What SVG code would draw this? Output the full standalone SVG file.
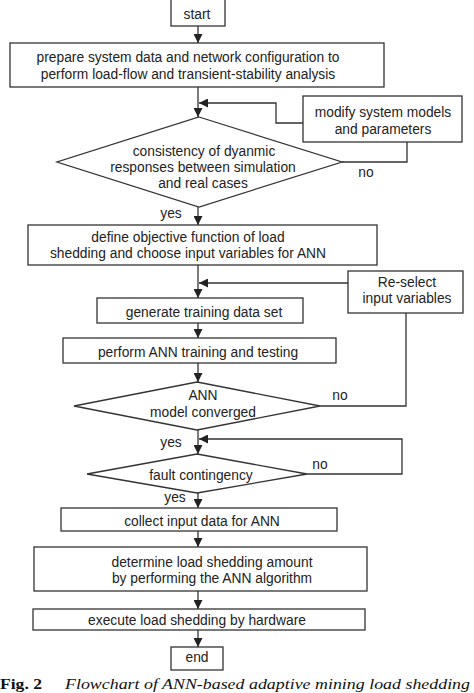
<svg xmlns="http://www.w3.org/2000/svg" width="474" height="693" viewBox="0 0 474 693">
<style>
.b{fill:#fff;stroke:#333;stroke-width:1.3}
.t{font-family:"Liberation Sans",Arial,sans-serif;font-size:13.8px;fill:#222;text-anchor:middle}
.l{font-family:"Liberation Sans",Arial,sans-serif;font-size:13.8px;fill:#222}
.c{fill:none;stroke:#333;stroke-width:1.3}
</style>
<defs>
<marker id="ah" markerWidth="9" markerHeight="9" refX="9" refY="4.5" orient="auto" markerUnits="userSpaceOnUse">
<path d="M0,0 L9,4.5 L0,9 Z" fill="#222"/>
</marker>
</defs>
<rect width="474" height="693" fill="#fff"/>
<g id="connectors">
<path class="c" d="M198 26 V43" marker-end="url(#ah)"/>
<path class="c" d="M198 87 V117" marker-end="url(#ah)"/>
<path class="c" d="M303 123 H276 V103 H199" marker-end="url(#ah)"/>
<path class="c" d="M342 162 H407 V142"/>
<path class="c" d="M198 207 V225" marker-end="url(#ah)"/>
<path class="c" d="M198 265 V298" marker-end="url(#ah)"/>
<path class="c" d="M348 283 H199" marker-end="url(#ah)"/>
<path class="c" d="M320 406 H406 V313"/>
<path class="c" d="M198 323 V338" marker-end="url(#ah)"/>
<path class="c" d="M198 363 V382" marker-end="url(#ah)"/>
<path class="c" d="M198 430 V454" marker-end="url(#ah)"/>
<path class="c" d="M307 474 H402 V439 H199" marker-end="url(#ah)"/>
<path class="c" d="M198 493 V508" marker-end="url(#ah)"/>
<path class="c" d="M198 531 V547" marker-end="url(#ah)"/>
<path class="c" d="M198 591 V609" marker-end="url(#ah)"/>
<path class="c" d="M198 630 V647" marker-end="url(#ah)"/>
<text class="l" x="366" y="177" text-anchor="middle">no</text>
<text class="l" x="171" y="218" text-anchor="middle">yes</text>
<text class="l" x="340" y="400" text-anchor="middle">no</text>
<text class="l" x="171" y="447" text-anchor="middle">yes</text>
<text class="l" x="320" y="469" text-anchor="middle">no</text>
<text class="l" x="175" y="502" text-anchor="middle">yes</text>
</g>
<g id="start"><rect class="b" x="171" y="-1" width="54" height="27"/><text class="t" x="197" y="19">start</text></g>
<g id="prepare"><rect class="b" x="10" y="43" width="374" height="44"/><text class="t" x="188" y="62">prepare system data and network configuration to</text><text class="t" x="188" y="79">perform load-flow and transient-stability analysis</text></g>
<g id="modify"><rect class="b" x="303" y="96" width="159" height="46"/><text class="t" x="383" y="117">modify system models</text><text class="t" x="383" y="134">and parameters</text></g>
<g id="consistency"><polygon class="b" points="199,117 342,162 199,207 57,162"/><text class="t" x="204" y="156">consistency of dyanmic</text><text class="t" x="203" y="172">responses between simulation</text><text class="t" x="203" y="188">and real cases</text></g>
<g id="define"><rect class="b" x="28" y="225" width="349" height="40"/><text class="t" x="188" y="242">define objective function of load</text><text class="t" x="188" y="258">shedding and choose input variables for ANN</text></g>
<g id="reselect"><rect class="b" x="348" y="271" width="115" height="42"/><text class="t" x="407" y="287">Re-select</text><text class="t" x="407" y="303">input variables</text></g>
<g id="generate"><rect class="b" x="97" y="298" width="206" height="25"/><text class="t" x="204" y="317">generate training data set</text></g>
<g id="perform"><rect class="b" x="63" y="338" width="273" height="25"/><text class="t" x="198" y="357">perform ANN training and testing</text></g>
<g id="converged"><polygon class="b" points="197,382 320,406 197,430 74,406"/><text class="t" x="203" y="400">ANN</text><text class="t" x="203" y="417">model converged</text></g>
<g id="fault"><polygon class="b" points="197,454 307,474 197,493 87,474"/><text class="t" x="201" y="480">fault contingency</text></g>
<g id="collect"><rect class="b" x="61" y="508" width="276" height="23"/><text class="t" x="202" y="526">collect input data for ANN</text></g>
<g id="determine"><rect class="b" x="34" y="547" width="333" height="44"/><text class="t" x="212" y="567">determine load shedding amount</text><text class="t" x="212" y="583">by performing the ANN algorithm</text></g>
<g id="execute"><rect class="b" x="33" y="609" width="332" height="21"/><text class="t" x="197" y="625">execute load shedding by hardware</text></g>
<g id="end"><rect class="b" x="171" y="647" width="52" height="23"/><text class="t" x="197" y="662">end</text></g>
<g id="caption"><text x="0" y="689" font-family="Liberation Serif,serif" font-size="14" font-weight="bold" fill="#111" textLength="42" lengthAdjust="spacingAndGlyphs">Fig. 2</text><text x="65" y="689" font-family="Liberation Serif,serif" font-size="14" font-style="italic" fill="#111" textLength="405" lengthAdjust="spacingAndGlyphs">Flowchart of ANN-based adaptive mining load shedding</text></g>
</svg>
